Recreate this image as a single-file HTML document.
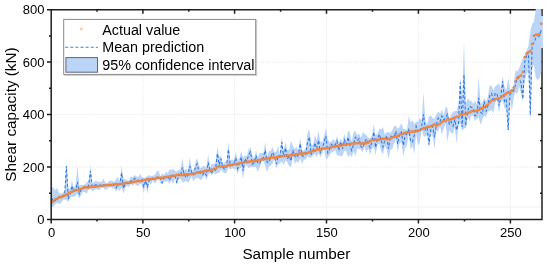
<!DOCTYPE html>
<html><head><meta charset="utf-8"><style>
html,body{margin:0;padding:0;background:#fff;width:550px;height:266px;overflow:hidden}
svg{display:block}
text{font-family:"Liberation Sans",Arial,sans-serif;fill:#000}
</style></head><body>
<svg width="550" height="266" viewBox="0 0 550 266">
<defs><clipPath id="pc"><rect x="52" y="9" width="491.5" height="210"/></clipPath></defs>
<!-- grid -->
<g stroke="#d9d9d9" stroke-width="0.8" stroke-dasharray="0.8 1.4" fill="none">
<line x1="142.9" y1="10" x2="142.9" y2="219"/>
<line x1="234.6" y1="10" x2="234.6" y2="219"/>
<line x1="326.5" y1="10" x2="326.5" y2="219"/>
<line x1="418.4" y1="10" x2="418.4" y2="219"/>
<line x1="510.4" y1="10" x2="510.4" y2="219"/>
<line x1="52" y1="167" x2="541" y2="167"/>
<line x1="52" y1="114.5" x2="541" y2="114.5"/>
<line x1="52" y1="62" x2="541" y2="62"/>
</g>
<line x1="52" y1="207.1" x2="541" y2="207.1" stroke="#e6eefa" stroke-width="0.8"/>
<!-- axes frame -->
<g stroke="#1e1e1e" stroke-width="1.5" fill="none" stroke-linecap="square">
<path d="M51.2 9.7 H542 V219.5 H51.2 Z"/>
</g>
<!-- ticks -->
<g stroke="#1e1e1e" stroke-width="1.5" fill="none">
<path d="M47 219.5H51.2 M47 167H51.2 M47 114.5H51.2 M47 62H51.2 M47 9.7H51.2"/>
<path d="M49 193.2H51.2 M49 140.7H51.2 M49 88.2H51.2 M49 35.9H51.2"/>
<path d="M542 167H538 M542 114.5H538 M542 62H538"/>
<path d="M542 193.2H540 M542 140.7H540 M542 88.2H540 M542 35.9H540"/>
<path d="M51.2 219.5V223.6 M142.9 219.5V223.6 M234.6 219.5V223.6 M326.5 219.5V223.6 M418.4 219.5V223.6 M510.4 219.5V223.6"/>
<path d="M97 219.5V221.6 M188.8 219.5V221.6 M280.6 219.5V221.6 M372.5 219.5V221.6 M464.5 219.5V221.6"/>
<path d="M142.9 9.7V13.7 M234.6 9.7V13.7 M326.5 9.7V13.7 M418.4 9.7V13.7 M510.4 9.7V13.7"/>
<path d="M97 9.7V11.7 M188.8 9.7V11.7 M280.6 9.7V11.7 M372.5 9.7V11.7 M464.5 9.7V11.7"/>
</g>
<!-- data -->
<g clip-path="url(#pc)">
<path d="M51.7,186.0 L53.5,188.0 L55.4,190.0 L57.2,188.0 L59.1,193.0 L60.9,193.8 L62.7,193.0 L64.6,190.8 L66.4,164.5 L68.3,187.7 L70.1,189.8 L71.9,180.0 L73.8,187.8 L75.6,184.7 L77.5,165.6 L79.3,185.4 L81.1,184.9 L83.0,185.1 L84.8,184.4 L86.7,181.9 L88.5,181.9 L90.4,165.6 L92.2,182.5 L94.0,182.3 L95.9,180.2 L97.7,182.1 L99.6,181.3 L101.4,182.2 L103.2,178.5 L105.1,182.1 L106.9,183.7 L108.8,181.1 L110.6,180.5 L112.4,180.7 L114.3,182.1 L116.1,179.3 L118.0,176.8 L119.8,181.9 L121.6,166.0 L123.5,178.8 L125.3,179.2 L127.2,180.6 L129.0,180.7 L130.8,176.4 L132.7,177.3 L134.5,175.0 L136.4,176.4 L138.2,177.1 L140.0,174.0 L141.9,176.7 L143.7,178.8 L145.6,177.1 L147.4,176.6 L149.3,174.9 L151.1,176.2 L152.9,175.8 L154.8,175.0 L156.6,171.4 L158.5,170.3 L160.3,176.3 L162.1,173.3 L164.0,174.9 L165.8,171.6 L167.7,172.9 L169.5,169.6 L171.3,169.8 L173.2,169.0 L175.0,171.0 L176.9,171.6 L178.7,169.7 L180.5,169.8 L182.4,157.8 L184.2,170.4 L186.1,168.8 L187.9,171.1 L189.7,157.0 L191.6,168.6 L193.4,171.0 L195.3,163.0 L197.1,157.8 L198.9,165.4 L200.8,168.4 L202.6,166.1 L204.5,165.9 L206.3,167.4 L208.2,154.4 L210.0,167.6 L211.8,163.8 L213.7,163.9 L215.5,162.5 L217.4,146.8 L219.2,157.4 L221.0,155.3 L222.9,165.0 L224.7,162.3 L226.6,161.4 L228.4,141.8 L230.2,160.6 L232.1,159.2 L233.9,160.9 L235.8,151.9 L237.6,159.8 L239.4,158.1 L241.3,151.0 L243.1,157.7 L245.0,155.0 L246.8,156.5 L248.6,149.4 L250.5,147.0 L252.3,155.2 L254.2,158.6 L256.0,150.3 L257.8,158.3 L259.7,152.7 L261.5,153.1 L263.4,153.1 L265.2,141.9 L267.1,156.7 L268.9,151.3 L270.7,150.4 L272.6,147.0 L274.4,152.1 L276.3,151.7 L278.1,146.3 L279.9,154.8 L281.8,136.8 L283.6,151.7 L285.5,141.9 L287.3,150.3 L289.1,149.3 L291.0,141.0 L292.8,145.3 L294.7,149.0 L296.5,146.7 L298.3,150.7 L300.2,137.7 L302.0,150.3 L303.9,150.4 L305.7,148.8 L307.5,132.5 L309.4,129.4 L311.2,144.3 L313.1,145.3 L314.9,135.3 L316.7,139.9 L318.6,131.0 L320.4,141.7 L322.3,142.3 L324.1,136.1 L325.9,127.7 L327.8,138.7 L329.6,142.7 L331.5,141.2 L333.3,139.3 L335.2,141.5 L337.0,136.1 L338.8,143.1 L340.7,138.6 L342.5,142.2 L344.4,133.6 L346.2,141.9 L348.0,130.2 L349.9,132.7 L351.7,141.4 L353.6,131.7 L355.4,131.0 L357.2,135.3 L359.1,133.6 L360.9,138.3 L362.8,131.9 L364.6,134.0 L366.4,135.0 L368.3,137.7 L370.1,138.2 L372.0,135.3 L373.8,123.6 L375.6,135.5 L377.5,133.6 L379.3,128.8 L381.2,129.5 L383.0,127.1 L384.8,134.8 L386.7,131.9 L388.5,132.3 L390.4,132.9 L392.2,130.6 L394.1,126.1 L395.9,125.7 L397.7,128.7 L399.6,127.0 L401.4,122.9 L403.3,128.8 L405.1,129.1 L406.9,130.8 L408.8,116.0 L410.6,122.1 L412.5,120.4 L414.3,124.0 L416.1,121.5 L418.0,122.0 L419.8,118.1 L421.7,120.7 L423.5,92.3 L425.3,120.1 L427.2,124.6 L429.0,116.4 L430.9,115.4 L432.7,118.2 L434.5,119.1 L436.4,114.3 L438.2,111.8 L440.1,113.7 L441.9,109.4 L443.7,115.7 L445.6,106.6 L447.4,108.2 L449.3,121.2 L451.1,114.6 L453.0,112.1 L454.8,110.9 L456.6,111.1 L458.5,103.9 L460.3,77.3 L462.2,99.3 L464.0,40.0 L465.8,103.9 L467.7,98.2 L469.5,100.4 L471.4,101.0 L473.2,104.1 L475.0,100.6 L476.9,104.7 L478.7,77.3 L480.6,103.8 L482.4,102.5 L484.2,98.0 L486.1,101.3 L487.9,96.5 L489.8,85.0 L491.6,86.0 L493.4,90.4 L495.3,86.3 L497.1,84.8 L499.0,83.7 L500.8,89.1 L502.6,76.0 L504.5,86.7 L506.3,90.3 L508.2,78.1 L510.0,88.7 L511.9,90.0 L513.7,83.9 L515.5,70.0 L517.4,71.7 L519.2,68.0 L521.1,63.0 L522.9,58.1 L524.7,56.0 L526.6,50.3 L528.4,46.0 L530.3,32.0 L532.1,24.0 L533.9,21.9 L535.8,9.0 L537.6,5.0 L539.5,3.0 L541.3,0.0 L541.3,72.0 L539.5,78.0 L537.6,80.0 L535.8,78.0 L533.9,64.2 L532.1,70.0 L530.3,123.6 L528.4,70.0 L526.6,74.5 L524.7,80.0 L522.9,101.4 L521.1,95.0 L519.2,86.0 L517.4,94.1 L515.5,92.0 L513.7,97.2 L511.9,111.6 L510.0,98.0 L508.2,134.0 L506.3,109.8 L504.5,108.0 L502.6,100.5 L500.8,102.0 L499.0,113.2 L497.1,99.5 L495.3,102.8 L493.4,113.3 L491.6,110.1 L489.8,111.1 L487.9,111.6 L486.1,117.0 L484.2,115.5 L482.4,119.5 L480.6,125.0 L478.7,117.5 L476.9,118.8 L475.0,121.0 L473.2,116.0 L471.4,115.5 L469.5,121.4 L467.7,116.5 L465.8,128.0 L464.0,128.5 L462.2,131.0 L460.3,123.5 L458.5,125.0 L456.6,143.5 L454.8,127.6 L453.0,133.8 L451.1,132.9 L449.3,130.2 L447.4,142.3 L445.6,123.4 L443.7,128.7 L441.9,134.6 L440.1,126.6 L438.2,131.6 L436.4,130.8 L434.5,148.9 L432.7,136.8 L430.9,132.4 L429.0,148.4 L427.2,135.0 L425.3,136.8 L423.5,136.3 L421.7,129.3 L419.8,142.8 L418.0,145.5 L416.1,133.7 L414.3,154.6 L412.5,146.0 L410.6,149.4 L408.8,134.0 L406.9,145.7 L405.1,148.0 L403.3,156.7 L401.4,142.5 L399.6,142.8 L397.7,152.5 L395.9,139.3 L394.1,143.6 L392.2,148.9 L390.4,150.0 L388.5,158.7 L386.7,149.3 L384.8,145.7 L383.0,154.6 L381.2,151.4 L379.3,143.7 L377.5,144.6 L375.6,155.6 L373.8,146.4 L372.0,148.8 L370.1,154.6 L368.3,148.2 L366.4,153.1 L364.6,146.3 L362.8,152.5 L360.9,149.6 L359.1,149.2 L357.2,148.5 L355.4,156.4 L353.6,150.9 L351.7,157.2 L349.9,154.5 L348.0,157.2 L346.2,151.4 L344.4,150.6 L342.5,155.7 L340.7,156.2 L338.8,155.5 L337.0,155.2 L335.2,149.7 L333.3,151.9 L331.5,152.4 L329.6,155.1 L327.8,158.0 L325.9,159.1 L324.1,148.9 L322.3,153.6 L320.4,157.2 L318.6,153.1 L316.7,157.2 L314.9,153.7 L313.1,155.5 L311.2,158.0 L309.4,157.4 L307.5,156.3 L305.7,159.5 L303.9,159.6 L302.0,163.9 L300.2,158.2 L298.3,163.3 L296.5,161.3 L294.7,163.9 L292.8,156.2 L291.0,167.2 L289.1,166.0 L287.3,162.2 L285.5,160.2 L283.6,164.9 L281.8,161.4 L279.9,162.9 L278.1,164.7 L276.3,169.0 L274.4,158.5 L272.6,163.6 L270.7,165.6 L268.9,166.4 L267.1,172.2 L265.2,165.8 L263.4,160.7 L261.5,161.8 L259.7,167.2 L257.8,172.1 L256.0,167.1 L254.2,167.0 L252.3,167.2 L250.5,166.9 L248.6,168.2 L246.8,165.3 L245.0,165.5 L243.1,179.0 L241.3,167.2 L239.4,169.0 L237.6,173.9 L235.8,168.5 L233.9,169.6 L232.1,168.0 L230.2,169.9 L228.4,167.2 L226.6,173.2 L224.7,173.0 L222.9,171.9 L221.0,169.4 L219.2,172.7 L217.4,173.1 L215.5,174.6 L213.7,172.6 L211.8,175.5 L210.0,173.1 L208.2,175.1 L206.3,179.8 L204.5,175.0 L202.6,178.0 L200.8,180.2 L198.9,178.4 L197.1,177.7 L195.3,178.5 L193.4,181.5 L191.6,176.2 L189.7,180.5 L187.9,182.9 L186.1,181.0 L184.2,181.9 L182.4,182.2 L180.5,178.8 L178.7,179.0 L176.9,185.0 L175.0,178.3 L173.2,184.0 L171.3,180.2 L169.5,184.0 L167.7,181.0 L165.8,181.7 L164.0,181.5 L162.1,184.0 L160.3,182.5 L158.5,177.9 L156.6,181.3 L154.8,183.8 L152.9,180.2 L151.1,184.4 L149.3,182.2 L147.4,193.8 L145.6,184.0 L143.7,193.0 L141.9,184.7 L140.0,183.6 L138.2,185.9 L136.4,185.4 L134.5,183.6 L132.7,186.1 L130.8,183.8 L129.0,187.2 L127.2,185.8 L125.3,187.6 L123.5,193.8 L121.6,186.9 L119.8,191.0 L118.0,188.5 L116.1,191.6 L114.3,188.7 L112.4,187.9 L110.6,186.9 L108.8,187.5 L106.9,189.2 L105.1,189.7 L103.2,187.4 L101.4,187.2 L99.6,190.2 L97.7,189.5 L95.9,189.0 L94.0,190.5 L92.2,190.9 L90.4,188.7 L88.5,189.8 L86.7,193.8 L84.8,192.0 L83.0,191.7 L81.1,194.9 L79.3,198.7 L77.5,193.6 L75.6,195.7 L73.8,197.0 L71.9,196.8 L70.1,197.3 L68.3,202.0 L66.4,200.0 L64.6,199.6 L62.7,200.2 L60.9,203.4 L59.1,203.7 L57.2,203.0 L55.4,204.0 L53.5,206.5 L51.7,207.0Z" fill="#bcd4f6" stroke="none"/>
<rect x="541" y="16" width="2" height="32" fill="#c5daf6"/>
<path d="M51.7,198.0 L53.5,201.8 L55.4,200.4 L57.2,198.2 L59.1,197.6 L60.9,196.7 L62.7,196.9 L64.6,195.7 L66.4,166.0 L68.3,199.0 L70.1,193.9 L71.9,185.8 L73.8,191.5 L75.6,190.3 L77.5,182.0 L79.3,194.0 L81.1,189.5 L83.0,188.1 L84.8,187.6 L86.7,188.0 L88.5,186.2 L90.4,171.0 L92.2,186.9 L94.0,185.8 L95.9,184.5 L97.7,185.4 L99.6,185.6 L101.4,184.7 L103.2,184.3 L105.1,185.6 L106.9,186.2 L108.8,184.8 L110.6,184.1 L112.4,184.9 L114.3,184.9 L116.1,187.8 L118.0,184.3 L119.8,184.6 L121.6,173.0 L123.5,188.5 L125.3,183.3 L127.2,183.0 L129.0,183.5 L130.8,180.9 L132.7,181.2 L134.5,178.3 L136.4,179.6 L138.2,181.2 L140.0,181.4 L141.9,179.8 L143.7,186.7 L145.6,180.9 L147.4,186.8 L149.3,179.9 L151.1,180.2 L152.9,178.8 L154.8,179.2 L156.6,178.9 L158.5,176.1 L160.3,178.0 L162.1,183.0 L164.0,178.1 L165.8,176.5 L167.7,176.8 L169.5,180.3 L171.3,175.3 L173.2,176.5 L175.0,175.4 L176.9,183.0 L178.7,174.3 L180.5,176.0 L182.4,167.5 L184.2,174.3 L186.1,177.7 L187.9,175.6 L189.7,166.0 L191.6,172.0 L193.4,174.7 L195.3,168.1 L197.1,163.7 L198.9,171.4 L200.8,173.6 L202.6,174.9 L204.5,172.1 L206.3,175.4 L208.2,162.5 L210.0,169.7 L211.8,172.5 L213.7,169.3 L215.5,170.2 L217.4,153.6 L219.2,164.8 L221.0,158.6 L222.9,167.3 L224.7,169.5 L226.6,166.1 L228.4,149.4 L230.2,165.2 L232.1,165.0 L233.9,163.8 L235.8,157.8 L237.6,168.7 L239.4,163.7 L241.3,157.0 L243.1,170.8 L245.0,158.7 L246.8,161.4 L248.6,155.0 L250.5,152.0 L252.3,164.2 L254.2,162.7 L256.0,155.5 L257.8,163.3 L259.7,163.6 L261.5,159.1 L263.4,157.4 L265.2,150.3 L267.1,162.2 L268.9,162.4 L270.7,157.1 L272.6,152.4 L274.4,156.4 L276.3,163.9 L278.1,156.5 L279.9,157.0 L281.8,142.0 L283.6,156.2 L285.5,148.0 L287.3,158.9 L289.1,155.8 L291.0,161.1 L292.8,150.1 L294.7,155.8 L296.5,157.8 L298.3,155.0 L300.2,143.6 L302.0,155.7 L303.9,156.4 L305.7,154.6 L307.5,142.5 L309.4,137.0 L311.2,154.7 L313.1,150.1 L314.9,142.9 L316.7,149.1 L318.6,140.3 L320.4,153.2 L322.3,148.2 L324.1,142.2 L325.9,136.0 L327.8,152.9 L329.6,149.3 L331.5,144.2 L333.3,145.5 L335.2,145.0 L337.0,141.0 L338.8,150.5 L340.7,141.9 L342.5,148.9 L344.4,140.0 L346.2,145.1 L348.0,137.2 L349.9,145.1 L351.7,150.5 L353.6,144.1 L355.4,137.3 L357.2,140.6 L359.1,138.5 L360.9,146.5 L362.8,147.9 L364.6,142.2 L366.4,139.0 L368.3,143.6 L370.1,147.8 L372.0,141.1 L373.8,132.0 L375.6,147.6 L377.5,139.2 L379.3,134.2 L381.2,140.2 L383.0,146.9 L384.8,140.4 L386.7,135.5 L388.5,148.7 L390.4,135.9 L392.2,136.7 L394.1,137.1 L395.9,131.2 L397.7,144.0 L399.6,133.4 L401.4,131.9 L403.3,145.3 L405.1,136.1 L406.9,133.8 L408.8,129.5 L410.6,140.6 L412.5,142.0 L414.3,135.2 L416.1,126.2 L418.0,131.8 L419.8,131.8 L421.7,125.9 L423.5,114.3 L425.3,130.0 L427.2,128.2 L429.0,144.8 L430.9,128.5 L432.7,126.2 L434.5,137.1 L436.4,124.6 L438.2,118.1 L440.1,121.3 L441.9,115.9 L443.7,120.0 L445.6,117.9 L447.4,114.2 L449.3,124.2 L451.1,121.6 L453.0,126.0 L454.8,119.4 L456.6,130.1 L458.5,123.4 L460.3,82.5 L462.2,127.0 L464.0,74.8 L465.8,126.0 L467.7,110.8 L469.5,106.3 L471.4,107.3 L473.2,108.4 L475.0,115.8 L476.9,115.0 L478.7,97.8 L480.6,112.2 L482.4,113.8 L484.2,101.3 L486.1,111.6 L487.9,105.8 L489.8,95.2 L491.6,93.5 L493.4,102.0 L495.3,93.0 L497.1,94.0 L499.0,105.7 L500.8,96.9 L502.6,81.2 L504.5,101.3 L506.3,99.3 L508.2,130.0 L510.0,94.1 L511.9,93.0 L513.7,90.6 L515.5,84.9 L517.4,77.0 L519.2,78.9 L521.1,82.8 L522.9,99.0 L524.7,62.0 L526.6,55.9 L528.4,52.0 L530.3,115.0 L532.1,45.0 L533.9,42.7 L535.8,38.0 L537.6,37.0 L539.5,36.0 L541.3,30.0" fill="none" stroke="#2f78e2" stroke-width="1.05" stroke-dasharray="3 2"/>
<g fill="#f39a5e" stroke="#ea762c" stroke-width="0.75"><circle cx="51.7" cy="202.5" r="1.0"/><circle cx="53.5" cy="201.0" r="1.0"/><circle cx="55.4" cy="199.3" r="1.0"/><circle cx="57.2" cy="198.8" r="1.0"/><circle cx="59.1" cy="197.2" r="1.0"/><circle cx="60.9" cy="197.2" r="1.0"/><circle cx="62.7" cy="196.1" r="1.0"/><circle cx="64.6" cy="195.4" r="1.0"/><circle cx="66.4" cy="194.7" r="1.0"/><circle cx="68.3" cy="193.5" r="1.0"/><circle cx="70.1" cy="192.7" r="1.0"/><circle cx="71.9" cy="191.8" r="1.0"/><circle cx="73.8" cy="191.0" r="1.0"/><circle cx="75.6" cy="190.1" r="1.0"/><circle cx="77.5" cy="190.1" r="1.0"/><circle cx="79.3" cy="189.3" r="1.0"/><circle cx="81.1" cy="189.2" r="1.0"/><circle cx="83.0" cy="188.0" r="1.0"/><circle cx="84.8" cy="187.0" r="1.0"/><circle cx="86.7" cy="187.3" r="1.0"/><circle cx="88.5" cy="187.7" r="1.0"/><circle cx="90.4" cy="186.9" r="1.0"/><circle cx="92.2" cy="186.5" r="1.0"/><circle cx="94.0" cy="186.7" r="1.0"/><circle cx="95.9" cy="186.4" r="1.0"/><circle cx="97.7" cy="186.3" r="1.0"/><circle cx="99.6" cy="185.8" r="1.0"/><circle cx="101.4" cy="185.9" r="1.0"/><circle cx="103.2" cy="185.7" r="1.0"/><circle cx="105.1" cy="185.3" r="1.0"/><circle cx="106.9" cy="185.0" r="1.0"/><circle cx="108.8" cy="185.1" r="1.0"/><circle cx="110.6" cy="185.1" r="1.0"/><circle cx="112.4" cy="184.7" r="1.0"/><circle cx="114.3" cy="184.4" r="1.0"/><circle cx="116.1" cy="184.1" r="1.0"/><circle cx="118.0" cy="184.5" r="1.0"/><circle cx="119.8" cy="183.7" r="1.0"/><circle cx="121.6" cy="183.7" r="1.0"/><circle cx="123.5" cy="183.8" r="1.0"/><circle cx="125.3" cy="183.0" r="1.0"/><circle cx="127.2" cy="182.8" r="1.0"/><circle cx="129.0" cy="182.7" r="1.0"/><circle cx="130.8" cy="182.7" r="1.0"/><circle cx="132.7" cy="182.0" r="1.0"/><circle cx="134.5" cy="181.7" r="1.0"/><circle cx="136.4" cy="181.4" r="1.0"/><circle cx="138.2" cy="180.7" r="1.0"/><circle cx="140.0" cy="181.2" r="1.0"/><circle cx="141.9" cy="180.5" r="1.0"/><circle cx="143.7" cy="179.8" r="1.0"/><circle cx="145.6" cy="180.0" r="1.0"/><circle cx="147.4" cy="179.3" r="1.0"/><circle cx="149.3" cy="179.2" r="1.0"/><circle cx="151.1" cy="179.2" r="1.0"/><circle cx="152.9" cy="178.6" r="1.0"/><circle cx="154.8" cy="178.9" r="1.0"/><circle cx="156.6" cy="177.8" r="1.0"/><circle cx="158.5" cy="178.0" r="1.0"/><circle cx="160.3" cy="177.8" r="1.0"/><circle cx="162.1" cy="177.9" r="1.0"/><circle cx="164.0" cy="177.5" r="1.0"/><circle cx="165.8" cy="177.1" r="1.0"/><circle cx="167.7" cy="176.8" r="1.0"/><circle cx="169.5" cy="176.5" r="1.0"/><circle cx="171.3" cy="176.6" r="1.0"/><circle cx="173.2" cy="175.7" r="1.0"/><circle cx="175.0" cy="175.7" r="1.0"/><circle cx="176.9" cy="175.1" r="1.0"/><circle cx="178.7" cy="175.0" r="1.0"/><circle cx="180.5" cy="174.7" r="1.0"/><circle cx="182.4" cy="175.3" r="1.0"/><circle cx="184.2" cy="174.3" r="1.0"/><circle cx="186.1" cy="174.4" r="1.0"/><circle cx="187.9" cy="174.3" r="1.0"/><circle cx="189.7" cy="174.2" r="1.0"/><circle cx="191.6" cy="174.0" r="1.0"/><circle cx="193.4" cy="173.8" r="1.0"/><circle cx="195.3" cy="173.6" r="1.0"/><circle cx="197.1" cy="172.5" r="1.0"/><circle cx="198.9" cy="172.6" r="1.0"/><circle cx="200.8" cy="171.8" r="1.0"/><circle cx="202.6" cy="171.9" r="1.0"/><circle cx="204.5" cy="171.0" r="1.0"/><circle cx="206.3" cy="170.7" r="1.0"/><circle cx="208.2" cy="170.5" r="1.0"/><circle cx="210.0" cy="170.5" r="1.0"/><circle cx="211.8" cy="169.8" r="1.0"/><circle cx="213.7" cy="169.1" r="1.0"/><circle cx="215.5" cy="168.8" r="1.0"/><circle cx="217.4" cy="167.2" r="1.0"/><circle cx="219.2" cy="166.3" r="1.0"/><circle cx="221.0" cy="166.6" r="1.0"/><circle cx="222.9" cy="166.4" r="1.0"/><circle cx="224.7" cy="166.5" r="1.0"/><circle cx="226.6" cy="166.3" r="1.0"/><circle cx="228.4" cy="164.8" r="1.0"/><circle cx="230.2" cy="165.5" r="1.0"/><circle cx="232.1" cy="164.9" r="1.0"/><circle cx="233.9" cy="164.3" r="1.0"/><circle cx="235.8" cy="163.9" r="1.0"/><circle cx="237.6" cy="164.2" r="1.0"/><circle cx="239.4" cy="163.3" r="1.0"/><circle cx="241.3" cy="162.8" r="1.0"/><circle cx="243.1" cy="162.7" r="1.0"/><circle cx="245.0" cy="161.9" r="1.0"/><circle cx="246.8" cy="162.2" r="1.0"/><circle cx="248.6" cy="161.7" r="1.0"/><circle cx="250.5" cy="161.6" r="1.0"/><circle cx="252.3" cy="161.3" r="1.0"/><circle cx="254.2" cy="160.6" r="1.0"/><circle cx="256.0" cy="161.1" r="1.0"/><circle cx="257.8" cy="160.1" r="1.0"/><circle cx="259.7" cy="160.4" r="1.0"/><circle cx="261.5" cy="159.3" r="1.0"/><circle cx="263.4" cy="159.5" r="1.0"/><circle cx="265.2" cy="158.7" r="1.0"/><circle cx="267.1" cy="158.6" r="1.0"/><circle cx="268.9" cy="158.1" r="1.0"/><circle cx="270.7" cy="157.4" r="1.0"/><circle cx="272.6" cy="157.5" r="1.0"/><circle cx="274.4" cy="157.6" r="1.0"/><circle cx="276.3" cy="157.5" r="1.0"/><circle cx="278.1" cy="156.6" r="1.0"/><circle cx="279.9" cy="156.1" r="1.0"/><circle cx="281.8" cy="156.2" r="1.0"/><circle cx="283.6" cy="156.1" r="1.0"/><circle cx="285.5" cy="155.7" r="1.0"/><circle cx="287.3" cy="155.3" r="1.0"/><circle cx="289.1" cy="155.6" r="1.0"/><circle cx="291.0" cy="155.4" r="1.0"/><circle cx="292.8" cy="155.0" r="1.0"/><circle cx="294.7" cy="154.3" r="1.0"/><circle cx="296.5" cy="154.3" r="1.0"/><circle cx="298.3" cy="154.0" r="1.0"/><circle cx="300.2" cy="153.4" r="1.0"/><circle cx="302.0" cy="153.8" r="1.0"/><circle cx="303.9" cy="153.3" r="1.0"/><circle cx="305.7" cy="152.8" r="1.0"/><circle cx="307.5" cy="152.9" r="1.0"/><circle cx="309.4" cy="152.2" r="1.0"/><circle cx="311.2" cy="151.7" r="1.0"/><circle cx="313.1" cy="151.3" r="1.0"/><circle cx="314.9" cy="150.7" r="1.0"/><circle cx="316.7" cy="149.6" r="1.0"/><circle cx="318.6" cy="149.5" r="1.0"/><circle cx="320.4" cy="149.5" r="1.0"/><circle cx="322.3" cy="148.6" r="1.0"/><circle cx="324.1" cy="148.4" r="1.0"/><circle cx="325.9" cy="148.2" r="1.0"/><circle cx="327.8" cy="148.1" r="1.0"/><circle cx="329.6" cy="147.8" r="1.0"/><circle cx="331.5" cy="147.3" r="1.0"/><circle cx="333.3" cy="146.6" r="1.0"/><circle cx="335.2" cy="146.6" r="1.0"/><circle cx="337.0" cy="146.1" r="1.0"/><circle cx="338.8" cy="145.5" r="1.0"/><circle cx="340.7" cy="145.7" r="1.0"/><circle cx="342.5" cy="145.1" r="1.0"/><circle cx="344.4" cy="144.5" r="1.0"/><circle cx="346.2" cy="144.8" r="1.0"/><circle cx="348.0" cy="144.1" r="1.0"/><circle cx="349.9" cy="144.2" r="1.0"/><circle cx="351.7" cy="143.4" r="1.0"/><circle cx="353.6" cy="143.7" r="1.0"/><circle cx="355.4" cy="143.3" r="1.0"/><circle cx="357.2" cy="143.2" r="1.0"/><circle cx="359.1" cy="142.9" r="1.0"/><circle cx="360.9" cy="144.0" r="1.0"/><circle cx="362.8" cy="143.2" r="1.0"/><circle cx="364.6" cy="143.2" r="1.0"/><circle cx="366.4" cy="143.3" r="1.0"/><circle cx="368.3" cy="142.0" r="1.0"/><circle cx="370.1" cy="141.2" r="1.0"/><circle cx="372.0" cy="140.0" r="1.0"/><circle cx="373.8" cy="139.9" r="1.0"/><circle cx="375.6" cy="139.5" r="1.0"/><circle cx="377.5" cy="139.7" r="1.0"/><circle cx="379.3" cy="139.6" r="1.0"/><circle cx="381.2" cy="139.0" r="1.0"/><circle cx="383.0" cy="138.7" r="1.0"/><circle cx="384.8" cy="138.9" r="1.0"/><circle cx="386.7" cy="139.2" r="1.0"/><circle cx="388.5" cy="138.9" r="1.0"/><circle cx="390.4" cy="138.6" r="1.0"/><circle cx="392.2" cy="137.6" r="1.0"/><circle cx="394.1" cy="136.7" r="1.0"/><circle cx="395.9" cy="136.5" r="1.0"/><circle cx="397.7" cy="135.8" r="1.0"/><circle cx="399.6" cy="134.5" r="1.0"/><circle cx="401.4" cy="134.3" r="1.0"/><circle cx="403.3" cy="133.7" r="1.0"/><circle cx="405.1" cy="132.9" r="1.0"/><circle cx="406.9" cy="132.4" r="1.0"/><circle cx="408.8" cy="132.2" r="1.0"/><circle cx="410.6" cy="131.8" r="1.0"/><circle cx="412.5" cy="131.4" r="1.0"/><circle cx="414.3" cy="131.8" r="1.0"/><circle cx="416.1" cy="130.9" r="1.0"/><circle cx="418.0" cy="130.8" r="1.0"/><circle cx="419.8" cy="130.2" r="1.0"/><circle cx="421.7" cy="129.2" r="1.0"/><circle cx="423.5" cy="128.3" r="1.0"/><circle cx="425.3" cy="127.8" r="1.0"/><circle cx="427.2" cy="127.1" r="1.0"/><circle cx="429.0" cy="126.8" r="1.0"/><circle cx="430.9" cy="126.2" r="1.0"/><circle cx="432.7" cy="125.2" r="1.0"/><circle cx="434.5" cy="124.4" r="1.0"/><circle cx="436.4" cy="125.6" r="1.0"/><circle cx="438.2" cy="124.7" r="1.0"/><circle cx="440.1" cy="123.7" r="1.0"/><circle cx="441.9" cy="121.9" r="1.0"/><circle cx="443.7" cy="120.9" r="1.0"/><circle cx="445.6" cy="121.2" r="1.0"/><circle cx="447.4" cy="119.4" r="1.0"/><circle cx="449.3" cy="119.6" r="1.0"/><circle cx="451.1" cy="119.3" r="1.0"/><circle cx="453.0" cy="118.3" r="1.0"/><circle cx="454.8" cy="117.7" r="1.0"/><circle cx="456.6" cy="116.7" r="1.0"/><circle cx="458.5" cy="116.7" r="1.0"/><circle cx="460.3" cy="114.8" r="1.0"/><circle cx="462.2" cy="114.0" r="1.0"/><circle cx="464.0" cy="114.0" r="1.0"/><circle cx="465.8" cy="113.7" r="1.0"/><circle cx="467.7" cy="112.7" r="1.0"/><circle cx="469.5" cy="112.5" r="1.0"/><circle cx="471.4" cy="111.5" r="1.0"/><circle cx="473.2" cy="110.8" r="1.0"/><circle cx="475.0" cy="111.0" r="1.0"/><circle cx="476.9" cy="110.5" r="1.0"/><circle cx="478.7" cy="109.9" r="1.0"/><circle cx="480.6" cy="108.8" r="1.0"/><circle cx="482.4" cy="107.8" r="1.0"/><circle cx="484.2" cy="106.9" r="1.0"/><circle cx="486.1" cy="106.2" r="1.0"/><circle cx="487.9" cy="104.6" r="1.0"/><circle cx="489.8" cy="102.4" r="1.0"/><circle cx="491.6" cy="100.5" r="1.0"/><circle cx="493.4" cy="100.2" r="1.0"/><circle cx="495.3" cy="99.4" r="1.0"/><circle cx="497.1" cy="98.8" r="1.0"/><circle cx="499.0" cy="98.2" r="1.0"/><circle cx="500.8" cy="97.5" r="1.0"/><circle cx="502.6" cy="96.3" r="1.0"/><circle cx="504.5" cy="94.7" r="1.0"/><circle cx="506.3" cy="93.6" r="1.0"/><circle cx="508.2" cy="92.4" r="1.0"/><circle cx="510.0" cy="91.9" r="1.0"/><circle cx="511.9" cy="90.3" r="1.0"/><circle cx="513.7" cy="87.6" r="1.0"/><circle cx="515.5" cy="81.4" r="1.0"/><circle cx="517.4" cy="78.3" r="1.0"/><circle cx="519.2" cy="76.6" r="1.0"/><circle cx="521.1" cy="75.5" r="1.0"/><circle cx="522.9" cy="72.1" r="1.0"/><circle cx="524.7" cy="57.0" r="1.0"/><circle cx="526.6" cy="53.6" r="1.0"/><circle cx="528.4" cy="52.5" r="1.0"/><circle cx="530.3" cy="51.1" r="1.0"/><circle cx="532.1" cy="44.0" r="1.0"/><circle cx="533.9" cy="35.8" r="1.0"/><circle cx="535.8" cy="34.8" r="1.0"/><circle cx="537.6" cy="34.6" r="1.0"/><circle cx="539.5" cy="33.9" r="1.0"/><circle cx="541.3" cy="23.7" r="1.0"/></g>
</g>
<!-- tick labels -->
<g font-size="13" text-anchor="end">
<text x="44.4" y="224.2">0</text>
<text x="44.4" y="171.7">200</text>
<text x="44.4" y="119.2">400</text>
<text x="44.4" y="66.7">600</text>
<text x="44.4" y="14.4">800</text>
</g>
<g font-size="13" text-anchor="middle" transform="translate(0.4 0)">
<text x="51.2" y="237">0</text>
<text x="142.9" y="237">50</text>
<text x="234.6" y="237">100</text>
<text x="326.5" y="237">150</text>
<text x="418.4" y="237">200</text>
<text x="510.4" y="237">250</text>
</g>
<text x="296.4" y="259" font-size="15.3" text-anchor="middle">Sample number</text>
<text transform="translate(15.8 114.5) rotate(-90)" font-size="15.3" text-anchor="middle">Shear capacity (kN)</text>
<!-- legend -->
<rect x="64.7" y="20.4" width="192" height="55" fill="none" stroke="#d0d0d0" stroke-width="1"/>
<rect x="63.7" y="19.4" width="192" height="55" fill="#fff" stroke="#8a8a8a" stroke-width="1"/>
<circle cx="81.3" cy="29" r="1.4" fill="#f5c8a8" stroke="none"/>
<line x1="65.2" y1="47.3" x2="98" y2="47.3" stroke="#3a80e6" stroke-width="1.1" stroke-dasharray="3 2.1"/>
<rect x="65.9" y="57.6" width="31.6" height="14.6" fill="#bcd4f6" stroke="#5f6778" stroke-width="1"/>
<g font-size="14.35">
<text x="102.2" y="34.5">Actual value</text>
<text x="102.2" y="52.2">Mean prediction</text>
<text x="102.2" y="70">95% confidence interval</text>
</g>
</svg>
</body></html>
